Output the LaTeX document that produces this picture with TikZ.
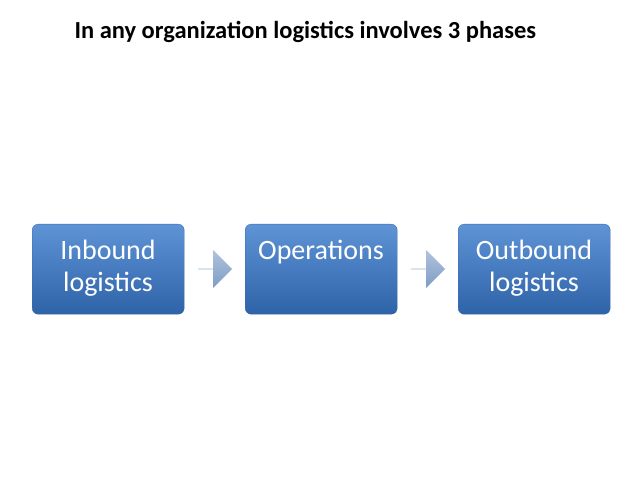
\documentclass[tikz,border=0pt]{standalone}
\usepackage{fontspec}
\setmainfont{Carlito}
\usetikzlibrary{shapes.arrows}
\definecolor{boxtop}{HTML}{5E93D6}
\definecolor{boxbot}{HTML}{2F63A8}
\definecolor{boxline}{HTML}{3A6CAE}
\definecolor{arrtop}{HTML}{B0C2DC}
\definecolor{arrbot}{HTML}{7F9CC6}
\tikzset{
  phase/.style={draw=boxline, rounded corners=6pt, top color=boxtop, bottom color=boxbot,
    minimum width=152pt, minimum height=90pt, anchor=north west},
  phasetext/.style={anchor=north, text=white, align=center, font=\fontsize{28}{32}\selectfont},
  phasearrow/.style={single arrow, draw=none, top color=arrtop, bottom color=arrbot,
    minimum height=34pt, minimum width=38pt, single arrow head extend=8pt, inner sep=0pt}
}
\begin{document}
\begin{tikzpicture}[x=1pt,y=-1pt]
\useasboundingbox (0,0) rectangle (638,478);
% title
\node[font=\bfseries\fontsize{24.5}{28}\selectfont, anchor=west] (title) at (71,32) {In any organization logistics involves 3 phases};
% phases
\node[phase] (inbound) at (32,224) {};
\node[phasetext] (inboundtxt) at (108,237) {Inbound\\logistics};
\node[phase] (operations) at (245,224) {};
\node[phasetext] (operationstxt) at (321,237) {Operations};
\node[phase] (outbound) at (458,224) {};
\node[phasetext] (outboundtxt) at (534,237) {Outbound\\logistics};
% arrows
\node[phasearrow] (arrow1) at (215,269) {};
\node[phasearrow] (arrow2) at (428,269) {};
\end{tikzpicture}
\end{document}
